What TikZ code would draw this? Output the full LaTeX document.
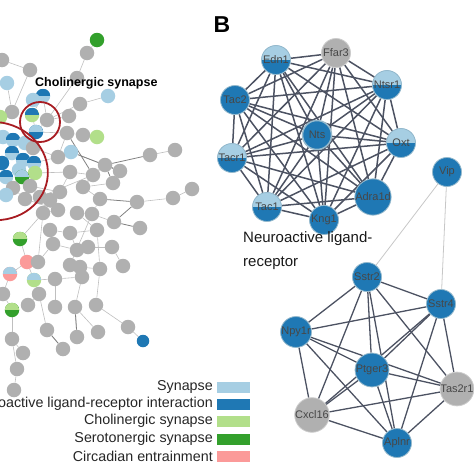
\documentclass[tikz,border=0pt]{standalone}
\usepackage{fontspec}
\setmainfont{Liberation Sans}
\usetikzlibrary{positioning}
\definecolor{synlb}{HTML}{A6CEE3}
\definecolor{ntblue}{HTML}{1F78B4}
\definecolor{cholg}{HTML}{B2DF8A}
\definecolor{serog}{HTML}{33A02C}
\definecolor{circpk}{HTML}{FB9A99}
\definecolor{nodegray}{HTML}{B0B0B0}
\definecolor{edgedark}{HTML}{4C5262}
\definecolor{ringred}{HTML}{A81C22}
\pgfdeclarelayer{back}
\pgfsetlayers{back,main}
\tikzset{
  gene/.style={circle, minimum size=29pt, inner sep=0pt, fill=ntblue, draw=synlb!90!black, line width=0.8pt, text=black!72, font=\fontsize{11}{11}\selectfont},
  twotone/.style 2 args={fill=#2, path picture={\fill[#1] (path picture bounding box.north west) rectangle (path picture bounding box.east);}},
  lnode/.style={circle, minimum size=14.5pt, inner sep=0pt, fill=#1},
  lnode/.default=nodegray,
  bedge/.style={draw=edgedark, line width=1.5pt},
  vedge/.style={draw=black!22, line width=0.8pt},
  ledge/.style={draw=black!25, line width=0.6pt},
  ldark/.style={draw=black!50, line width=0.8pt},
  legtext/.style={inner sep=0pt, text=black!85, font=\fontsize{14.3}{16}\selectfont},
  legbox/.style={minimum width=33pt, minimum height=11pt, inner sep=0pt},
  ring/.style={draw=ringred, line width=1.8pt}
}
\begin{document}
\begin{tikzpicture}[x=1pt, y=-1pt]
\useasboundingbox (0,0) rectangle (474,474);
% left network, upper part
\path (97,40) node[lnode=serog] (a1) {} (87,53) node[lnode] (a2) {} (2,60) node[lnode] (a3) {}
      (30,70) node[lnode] (a4) {} (77,78) node[lnode] (a5) {} (7,83) node[lnode=synlb] (a6) {}
      (108,96) node[lnode=synlb] (a7) {} (43,96) node[lnode, twotone={ntblue}{synlb}] (a8) {}
      (80,104) node[lnode] (a9) {} (33,100) node[lnode=synlb] (a10) {} (12,112) node[lnode] (a11) {}
      (69,116) node[lnode] (a12) {} (0,117) node[lnode=cholg] (a13) {} (47,120) node[lnode] (a14) {}
      (32,115) node[lnode, twotone={ntblue}{cholg}] (a15) {} (36,132) node[lnode, twotone={synlb}{ntblue}] (a16) {}
      (67,133) node[lnode] (a17) {} (83,135) node[lnode] (a18) {} (97,137) node[lnode=cholg] (a19) {}
      (71,152) node[lnode=synlb] (a20) {} (58,157) node[lnode] (a21) {} (150,155) node[lnode] (a22) {}
      (175,150) node[lnode] (a23) {} (105,165) node[lnode] (a24) {} (120,171) node[lnode] (a25) {}
      (93,175) node[lnode] (a26) {} (70,172) node[lnode] (a27) {} (113,183) node[lnode] (a28) {}
      (83,187) node[lnode] (a29) {} (192,189) node[lnode] (a30) {} (173,198) node[lnode] (a31) {}
      (137,202) node[lnode] (a32) {} (100,199) node[lnode] (a33) {} (60,192) node[lnode] (a34) {}
      (50,200) node[lnode] (a35) {} (77,213) node[lnode] (a36) {} (92,214) node[lnode] (a37) {}
      (114,222) node[lnode] (a38) {} (58,210) node[lnode] (a39) {} (43,213) node[lnode] (a40) {}
      (140,228) node[lnode] (a41) {} (97,230) node[lnode] (a42) {} (70,233) node[lnode] (a43) {}
      (50,230) node[lnode] (a44) {};
% nodes inside the large ring
\path (3,137) node[lnode=synlb] (b1) {} (13,140) node[lnode, twotone={ntblue}{synlb}] (b2) {}
      (25,143) node[lnode=synlb] (b3) {} (33,148) node[lnode] (b4) {}
      (12,153) node[lnode, twotone={ntblue}{synlb}] (b5) {} (23,160) node[lnode, twotone={ntblue}{synlb}] (b6) {}
      (2,163) node[lnode=ntblue] (b7) {} (34,163) node[lnode, twotone={ntblue}{synlb}] (b8) {}
      (19,170) node[lnode=synlb] (b9) {} (35,173) node[lnode=cholg] (b10) {}
      (22,177) node[lnode, twotone={synlb}{serog}] (b11) {} (6,177) node[lnode, twotone={ntblue}{synlb}] (b12) {}
      (13,188) node[lnode] (b13) {} (30,186) node[lnode] (b14) {} (6,195) node[lnode=synlb] (b15) {}
      (25,199) node[lnode] (b16) {} (40,197) node[lnode] (b17) {};
% left network, lower part
\path (20,239) node[lnode, twotone={cholg}{serog}] (c1) {} (53,244) node[lnode] (c2) {}
      (77,250) node[lnode] (c3) {} (88,247) node[lnode] (c4) {} (112,247) node[lnode] (c5) {}
      (27,262) node[lnode=circpk] (c6) {} (38,262) node[lnode] (c7) {} (70,265) node[lnode] (c8) {}
      (80,267) node[lnode] (c9) {} (100,269) node[lnode] (c10) {} (123,266) node[lnode] (c11) {}
      (10,274) node[lnode, twotone={synlb}{circpk}] (c12) {} (34,280) node[lnode, twotone={synlb}{cholg}] (c13) {}
      (55,279) node[lnode] (c14) {} (82,277) node[lnode] (c15) {} (3,294) node[lnode] (c16) {}
      (39,294) node[lnode] (c17) {} (28,305) node[lnode] (c18) {} (55,307) node[lnode] (c19) {}
      (75,307) node[lnode] (c20) {} (96,305) node[lnode] (c21) {}
      (12,310) node[lnode, twotone={cholg}{serog}] (c22) {} (47,330) node[lnode] (c23) {}
      (77,337) node[lnode] (c24) {} (98,332) node[lnode] (c25) {} (128,327) node[lnode] (c26) {}
      (143,341) node[lnode=ntblue, minimum size=12.5pt] (c27) {} (12,339) node[lnode] (c28) {} (63,349) node[lnode] (c29) {}
      (23,353) node[lnode] (c30) {} (17,369) node[lnode] (c31) {} (14,390) node[lnode] (c32) {};
\draw[ring] (-6,171) ellipse [x radius=54, y radius=49, rotate=-10];
\draw[ring] (40,122) circle [radius=20];
\node[anchor=west, inner sep=0pt, font=\fontsize{12.5}{13}\selectfont\bfseries] (chol) at (35,83) {Cholinergic synapse};
% panel B
\node[font=\fontsize{23}{23}\selectfont\bfseries] (panelB) at (222,25) {B};
\draw (276,60) node[gene, twotone={synlb}{ntblue}] (Edn1) {Edn1};
\draw (336,53) node[gene, fill=nodegray, draw=black!20] (Ffar3) {Ffar3};
\draw (387,85) node[gene, twotone={synlb}{ntblue}] (Ntsr1) {Ntsr1};
\draw (235,100) node[gene] (Tac2) {Tac2};
\draw (317,135) node[gene, line width=1.5pt] (Nts) {Nts};
\draw (401,143) node[gene, twotone={synlb}{ntblue}] (Oxt) {Oxt};
\draw (232,158) node[gene, twotone={synlb}{ntblue}] (Tacr1) {Tacr1};
\draw (373,197) node[gene] (Adra1d) {Adra1d};
\draw (267,207) node[gene, twotone={synlb}{ntblue}] (Tac1) {Tac1};
\draw (324,220) node[gene] (Kng1) {Kng1};
\draw (447,172) node[gene] (Vip) {Vip};
\draw (367,277) node[gene] (Sstr2) {Sstr2};
\draw (441,304) node[gene] (Sstr4) {Sstr4};
\draw (296,332) node[gene] (Npy1r) {Npy1r};
\draw (372,370) node[gene] (Ptger3) {Ptger3};
\draw (457,389) node[gene, fill=nodegray, draw=black!20] (Tas2r1) {Tas2r1};
\draw (312,415) node[gene, fill=nodegray, draw=black!20] (Cxcl16) {Cxcl16};
\draw (397,443) node[gene] (Aplnr) {Aplnr};
\node[anchor=north west, align=left, inner sep=0pt, text=black!90, font=\fontsize{15}{24}\selectfont] (nlr) at (243,231) {Neuroactive ligand-\\receptor};
% legend
\node[legtext, anchor=east] (lsyn) at (213,387) {Synapse};
\node[legtext, anchor=east] (lnlr) at (213,404) {Neuroactive ligand-receptor interaction};
\node[legtext, anchor=east] (lchol) at (213,421) {Cholinergic synapse};
\node[legtext, anchor=east] (lsero) at (213,439) {Serotonergic synapse};
\node[legtext, anchor=east] (lcirc) at (213,456) {Circadian entrainment};
\node[legbox, fill=synlb, right=4pt of lsyn] (ksyn) {};
\node[legbox, fill=ntblue, right=4pt of lnlr] (knlr) {};
\node[legbox, fill=cholg, right=4pt of lchol] (kchol) {};
\node[legbox, fill=serog, right=4pt of lsero] (ksero) {};
\node[legbox, fill=circpk, right=4pt of lcirc] (kcirc) {};
\begin{pgfonlayer}{back}
\path[bedge]
  (Edn1) edge (Ffar3) edge (Ntsr1) edge (Tac2) edge (Nts) edge (Oxt) edge (Tacr1) edge (Adra1d) edge (Tac1) edge (Kng1)
  (Ffar3) edge (Ntsr1) edge (Tac2) edge (Nts) edge (Oxt) edge (Tacr1) edge (Adra1d) edge (Tac1) edge (Kng1)
  (Ntsr1) edge (Tac2) edge (Nts) edge (Oxt) edge (Tacr1) edge (Adra1d) edge (Tac1) edge (Kng1)
  (Tac2) edge (Nts) edge (Oxt) edge (Tacr1) edge (Adra1d) edge (Tac1) edge (Kng1)
  (Nts) edge (Oxt) edge (Tacr1) edge (Adra1d) edge (Tac1) edge (Kng1)
  (Oxt) edge (Tacr1) edge (Adra1d) edge (Tac1) edge (Kng1)
  (Tacr1) edge (Adra1d) edge (Tac1) edge (Kng1)
  (Adra1d) edge (Tac1) edge (Kng1)
  (Tac1) edge (Kng1);
\path[bedge, line width=1.3pt]
  (Sstr2) edge (Sstr4) edge (Npy1r) edge (Ptger3) edge (Tas2r1) edge (Cxcl16) edge (Aplnr)
  (Sstr4) edge (Npy1r) edge (Ptger3) edge (Tas2r1) edge (Cxcl16) edge (Aplnr)
  (Npy1r) edge (Ptger3) edge (Tas2r1) edge (Cxcl16) edge (Aplnr)
  (Ptger3) edge (Tas2r1) edge (Cxcl16) edge (Aplnr)
  (Tas2r1) edge (Cxcl16) edge (Aplnr)
  (Cxcl16) edge (Aplnr);
\path[vedge] (Vip) edge (Sstr2) edge (Sstr4);
\path[ledge]
  (a1) edge (a2) (a2) edge (a5) (a5) edge (a14) (a3) edge (a4) (a4) edge (a11)
  (a6) edge (a11) (a10) edge (a8) (a8) edge (a15) (a8) edge (a14) (a7) edge (a9)
  (a9) edge (a14) (a12) edge (a14) (a11) edge (a13) (a14) edge (a16) (a15) edge (a16)
  (a17) edge (a16) (a18) edge (a17) (a19) edge (a18) (a20) edge (a21) (a21) edge (a17)
  (a21) edge (b8) (a22) edge (a23) (a26) edge (a27) (a27) edge (a34) (a28) edge (a29)
  (a29) edge (a33) (a30) edge (a31) (a31) edge (a32) (a33) edge (a37) (a34) edge (a35)
  (a36) edge (a37) (a37) edge (a38) (a36) edge (a42) (a39) edge (a40) (a42) edge (a43)
  (a43) edge (a44) (a44) edge (c2) (a40) edge (c1) (a35) edge (b17) (b16) edge (a39)
  (b10) edge (a27) (b14) edge (a34) (b4) edge (a21) (b17) edge (a26) (a20) edge (a24)
  (b1) edge (b3) (b3) edge (b4) (b9) edge (b14) (b13) edge (b16)
  (c1) edge (c6) (c2) edge (c3) (c3) edge (c4) (c4) edge (c5) (c5) edge (c11)
  (c2) edge (c7) (c7) edge (c6) (c6) edge (c12) (c6) edge (c13) (c8) edge (c9)
  (c9) edge (c10) (c8) edge (c15) (c13) edge (c14) (c14) edge (c15) (c14) edge (c19)
  (c17) edge (c13) (c17) edge (c18) (c17) edge (c23) (c20) edge (c24) (c20) edge (c25)
  (c20) edge (c15) (c21) edge (c26) (c26) edge (c27) (c21) edge (c10) (c23) edge (c29)
  (c16) edge (c22) (c22) edge (c28) (c28) edge (c30) (c28) edge (c31) (c31) edge (c32)
  (c12) edge (c16) (c3) edge (a43) (c8) edge (a37) (c7) edge (a40) (c10) edge (a42);
\path[ldark]
  (a22) edge (a24) (a24) edge (a25) (a24) edge (a26) (a24) edge (a28) (a25) edge (a28)
  (a26) edge (a29) (a32) edge (a33) (a32) edge (a38) (a38) edge (a41) (a20) edge (a25)
  (a17) edge (a26) (c20) edge (c24) (c23) edge (c29);
\end{pgfonlayer}
\end{tikzpicture}
\end{document}
